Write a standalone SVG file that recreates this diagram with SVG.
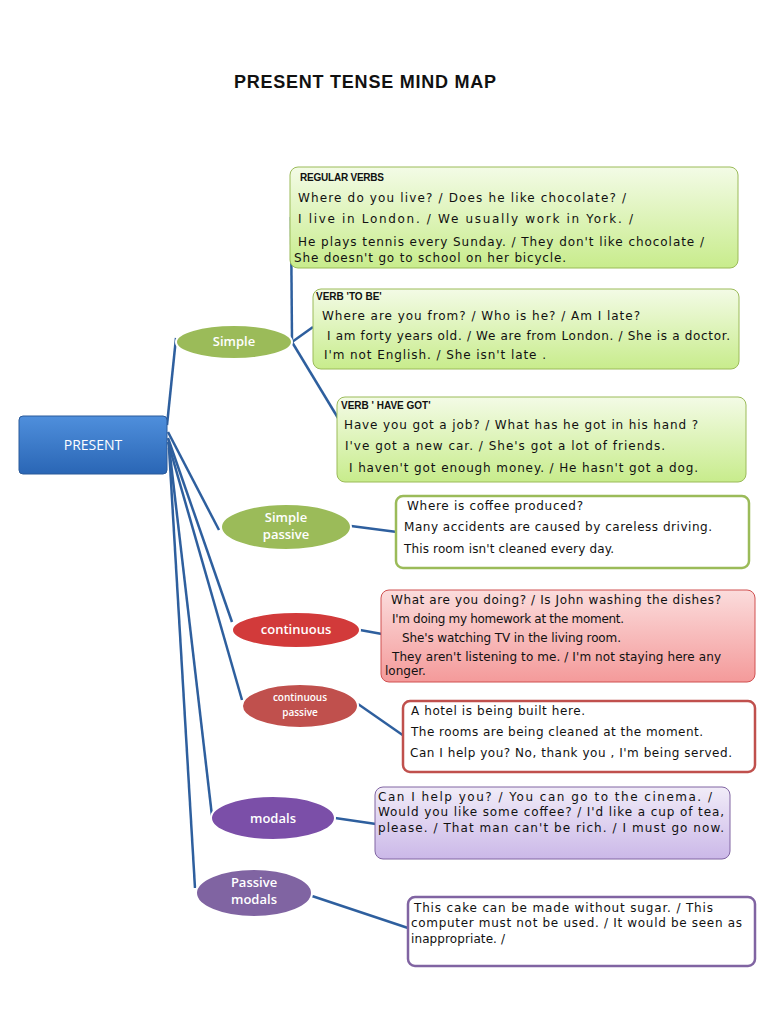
<svg xmlns="http://www.w3.org/2000/svg" width="768" height="1024" viewBox="0 0 768 1024">
<defs>
<linearGradient id="gG" x1="0" y1="0" x2="0" y2="1"><stop offset="0" stop-color="#f3fbe6"/><stop offset="1" stop-color="#c8ec8c"/></linearGradient>
<linearGradient id="gR" x1="0" y1="0" x2="0" y2="1"><stop offset="0" stop-color="#fbdcdc"/><stop offset="1" stop-color="#f49a9a"/></linearGradient>
<linearGradient id="gP" x1="0" y1="0" x2="0" y2="1"><stop offset="0" stop-color="#f1ecf8"/><stop offset="1" stop-color="#cbb8e8"/></linearGradient>
<linearGradient id="gB" x1="0" y1="0" x2="0" y2="1"><stop offset="0" stop-color="#4f8fdc"/><stop offset="1" stop-color="#2a66b5"/></linearGradient>
</defs>
<style>
.t{font-family:"DejaVu Sans","Liberation Sans",sans-serif;font-size:12px;fill:#111}
.h{font-family:"Liberation Sans",sans-serif;font-size:10px;font-weight:bold;fill:#111}
.n{font-family:"Open Sans","Liberation Sans",sans-serif;font-size:13px;font-weight:600;fill:#fff;text-anchor:middle}
.c{stroke:#2e5f9e;stroke-width:2.5;fill:none}
</style>
<rect width="768" height="1024" fill="#fff"/>
<text x="234" y="88" font-family="Liberation Sans,sans-serif" font-size="18" font-weight="bold" fill="#111" textLength="262" lengthAdjust="spacing">PRESENT TENSE MIND MAP</text>
<g id="connectors">
<path class="c" d="M167 425 L176 338"/>
<path class="c" d="M168 432 L219 530"/>
<path class="c" d="M168 438 L232 622"/>
<path class="c" d="M168 442 L242 700"/>
<path class="c" d="M169 446 L212 816"/>
<path class="c" d="M169 448 L195 888"/>
<path class="c" d="M292 340 L291 217"/>
<path class="c" d="M292 342 L313 327"/>
<path class="c" d="M292 342 L338 418"/>
<path class="c" d="M351 526 L397 532"/>
<path class="c" d="M360 630 L382 634"/>
<path class="c" d="M358 704 L404 736"/>
<path class="c" d="M335 818 L376 824"/>
<path class="c" d="M312 896 L408 928"/>
</g>
<g id="present"><rect x="19" y="416" width="148" height="58" rx="4" fill="url(#gB)" stroke="#2a5a9a"/><text class="n" x="93" y="450" style="font-size:14px;font-weight:normal">PRESENT</text></g>
<g id="simple"><ellipse cx="234" cy="342" rx="58" ry="17" fill="#9bbb59" stroke="#fff" stroke-width="2"/><text class="n" x="234" y="346">Simple</text></g>
<g id="simple-passive"><ellipse cx="286" cy="527" rx="65" ry="23" fill="#9bbb59" stroke="#fff" stroke-width="2"/><text class="n" x="286" y="522">Simple</text><text class="n" x="286" y="539">passive</text></g>
<g id="continuous"><ellipse cx="296" cy="630" rx="64" ry="18" fill="#d23a3a" stroke="#fff" stroke-width="2"/><text class="n" x="296" y="634">continuous</text></g>
<g id="continuous-passive"><ellipse cx="300" cy="706" rx="58" ry="22" fill="#c0504d" stroke="#fff" stroke-width="2"/><text class="n" x="300" y="701" style="font-size:10px">continuous</text><text class="n" x="300" y="716" style="font-size:10px">passive</text></g>
<g id="modals"><ellipse cx="273" cy="818" rx="62" ry="22" fill="#7b4fa8" stroke="#fff" stroke-width="2"/><text class="n" x="273" y="823">modals</text></g>
<g id="passive-modals"><ellipse cx="254" cy="893" rx="58" ry="24" fill="#8064a2" stroke="#fff" stroke-width="2"/><text class="n" x="254" y="887">Passive</text><text class="n" x="254" y="904">modals</text></g>
<g id="regular-verbs"><rect x="290" y="167" width="448" height="101" rx="8" fill="url(#gG)" stroke="#9bbb59"/>
<text class="h" x="300" y="181" textLength="84" lengthAdjust="spacing">REGULAR VERBS</text>
<text class="t" x="298" y="202" textLength="328" lengthAdjust="spacing">Where do you live? / Does he like chocolate? /</text>
<text class="t" x="298" y="223" textLength="335" lengthAdjust="spacing">I live in London. / We usually work in York. /</text>
<text class="t" x="298" y="246" textLength="406" lengthAdjust="spacing">He plays tennis every Sunday. / They don't like chocolate /</text>
<text class="t" x="294" y="262" textLength="272" lengthAdjust="spacing">She doesn't go to school on her bicycle.</text></g>
<g id="verb-to-be"><rect x="313" y="289" width="426" height="80" rx="8" fill="url(#gG)" stroke="#9bbb59"/>
<text class="h" x="316" y="300">VERB 'TO BE'</text>
<text class="t" x="322" y="320" font-size="11" textLength="318" lengthAdjust="spacing">Where are you from? / Who is he? / Am I late?</text>
<text class="t" x="327" y="340" font-size="11" textLength="403" lengthAdjust="spacing">I am forty years old. / We are from London. / She is a doctor.</text>
<text class="t" x="324" y="359" font-size="11" textLength="222" lengthAdjust="spacing">I'm not English. / She isn't late .</text></g>
<g id="verb-have-got"><rect x="337" y="397" width="409" height="85" rx="8" fill="url(#gG)" stroke="#9bbb59"/>
<text class="h" x="341" y="409">VERB ' HAVE GOT'</text>
<text class="t" x="344" y="429" textLength="354" lengthAdjust="spacing">Have you got a job? / What has he got in his hand ?</text>
<text class="t" x="345" y="450" textLength="320" lengthAdjust="spacing">I've got a new car. / She's got a lot of friends.</text>
<text class="t" x="349" y="472" textLength="349" lengthAdjust="spacing">I haven't got enough money. / He hasn't got a dog.</text></g>
<g id="simple-passive-box"><rect x="396" y="496" width="353" height="72" rx="7" fill="#fff" stroke="#9bbb59" stroke-width="2.5"/>
<text class="t" x="407" y="510" textLength="176" lengthAdjust="spacing">Where is coffee produced?</text>
<text class="t" x="404" y="531" textLength="308" lengthAdjust="spacing">Many accidents are caused by careless driving.</text>
<text class="t" x="404" y="553" textLength="210" lengthAdjust="spacing">This room isn't cleaned every day.</text></g>
<g id="continuous-box"><rect x="381" y="590" width="374" height="92" rx="8" fill="url(#gR)" stroke="#d05050"/>
<text class="t" x="391" y="604" font-size="11" textLength="330" lengthAdjust="spacing">What are you doing? / Is John washing the dishes?</text>
<text class="t" x="392" y="623" font-size="11" textLength="232" lengthAdjust="spacing">I'm doing my homework at the moment.</text>
<text class="t" x="402" y="642" font-size="11" textLength="219" lengthAdjust="spacing">She's watching TV in the living room.</text>
<text class="t" x="392" y="661" font-size="11" textLength="329" lengthAdjust="spacing">They aren't listening to me. / I'm not staying here any</text>
<text class="t" x="385" y="675" font-size="11">longer.</text></g>
<g id="continuous-passive-box"><rect x="403" y="701" width="352" height="71" rx="7" fill="#fff" stroke="#c0504d" stroke-width="2.5"/>
<text class="t" x="411" y="715" textLength="174" lengthAdjust="spacing">A hotel is being built here.</text>
<text class="t" x="411" y="736" textLength="292" lengthAdjust="spacing">The rooms are being cleaned at the moment.</text>
<text class="t" x="410" y="757" textLength="322" lengthAdjust="spacing">Can I help you? No, thank you , I'm being served.</text></g>
<g id="modals-box"><rect x="375" y="787" width="355" height="72" rx="8" fill="url(#gP)" stroke="#8064a2"/>
<text class="t" x="378" y="801" textLength="334" lengthAdjust="spacing">Can I help you? / You can go to the cinema. /</text>
<text class="t" x="378" y="816" textLength="346" lengthAdjust="spacing">Would you like some coffee? / I'd like a cup of tea,</text>
<text class="t" x="378" y="832" textLength="346" lengthAdjust="spacing">please. / That man can't be rich. / I must go now.</text></g>
<g id="passive-modals-box"><rect x="408" y="897" width="347" height="69" rx="7" fill="#fff" stroke="#8064a2" stroke-width="2.5"/>
<text class="t" x="414" y="912" textLength="299" lengthAdjust="spacing">This cake can be made without sugar. / This</text>
<text class="t" x="411" y="927" textLength="331" lengthAdjust="spacing">computer must not be used. / It would be seen as</text>
<text class="t" x="411" y="943" textLength="94" lengthAdjust="spacing">inappropriate. /</text></g>
</svg>
